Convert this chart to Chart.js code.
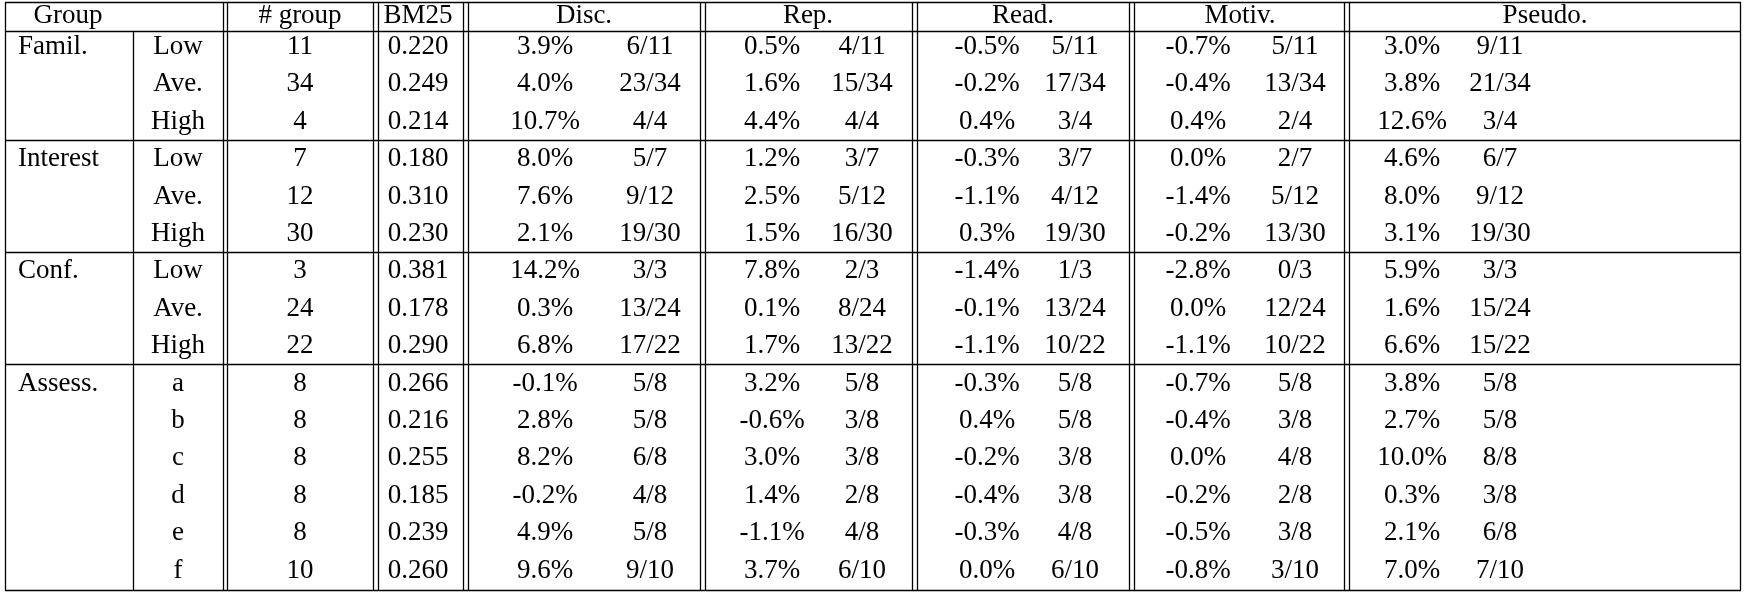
<!DOCTYPE html>
<html>
<head>
<meta charset="utf-8">
<script src="https://cdn.jsdelivr.net/npm/chart.js@4"></script>
<style>
  html, body { margin: 0; padding: 0; background: #fff; }
  #wrap { width: 1745px; height: 593px; }
</style>
</head>
<body>
<div id="wrap"><canvas id="table-chart"></canvas></div>
<script>
// Dados da tabela
const groupNames = ['Famil.', '', '', 'Interest', '', '', 'Conf.', '', '', 'Assess.', '', '', '', '', ''];
const levels = ['Low', 'Ave.', 'High', 'Low', 'Ave.', 'High', 'Low', 'Ave.', 'High', 'a', 'b', 'c', 'd', 'e', 'f'];
const groupSizes = ['11', '34', '4', '7', '12', '30', '3', '24', '22', '8', '8', '8', '8', '8', '10'];
const bm25 = ['0.220', '0.249', '0.214', '0.180', '0.310', '0.230', '0.381', '0.178', '0.290', '0.266', '0.216', '0.255', '0.185', '0.239', '0.260'];
const discPct = ['3.9%', '4.0%', '10.7%', '8.0%', '7.6%', '2.1%', '14.2%', '0.3%', '6.8%', '-0.1%', '2.8%', '8.2%', '-0.2%', '4.9%', '9.6%'];
const discFrac = ['6/11', '23/34', '4/4', '5/7', '9/12', '19/30', '3/3', '13/24', '17/22', '5/8', '5/8', '6/8', '4/8', '5/8', '9/10'];
const repPct = ['0.5%', '1.6%', '4.4%', '1.2%', '2.5%', '1.5%', '7.8%', '0.1%', '1.7%', '3.2%', '-0.6%', '3.0%', '1.4%', '-1.1%', '3.7%'];
const repFrac = ['4/11', '15/34', '4/4', '3/7', '5/12', '16/30', '2/3', '8/24', '13/22', '5/8', '3/8', '3/8', '2/8', '4/8', '6/10'];
const readPct = ['-0.5%', '-0.2%', '0.4%', '-0.3%', '-1.1%', '0.3%', '-1.4%', '-0.1%', '-1.1%', '-0.3%', '0.4%', '-0.2%', '-0.4%', '-0.3%', '0.0%'];
const readFrac = ['5/11', '17/34', '3/4', '3/7', '4/12', '19/30', '1/3', '13/24', '10/22', '5/8', '5/8', '3/8', '3/8', '4/8', '6/10'];
const motivPct = ['-0.7%', '-0.4%', '0.4%', '0.0%', '-1.4%', '-0.2%', '-2.8%', '0.0%', '-1.1%', '-0.7%', '-0.4%', '0.0%', '-0.2%', '-0.5%', '-0.8%'];
const motivFrac = ['5/11', '13/34', '2/4', '2/7', '5/12', '13/30', '0/3', '12/24', '10/22', '5/8', '3/8', '4/8', '2/8', '3/8', '3/10'];
const pseudoPct = ['3.0%', '3.8%', '12.6%', '4.6%', '8.0%', '3.1%', '5.9%', '1.6%', '6.6%', '3.8%', '2.7%', '10.0%', '0.3%', '2.1%', '7.0%'];
const pseudoFrac = ['9/11', '21/34', '3/4', '6/7', '9/12', '19/30', '3/3', '15/24', '15/22', '5/8', '5/8', '8/8', '3/8', '6/8', '7/10'];
const headers = ['Group', '# group', 'BM25', 'Disc.', 'Rep.', 'Read.', 'Motiv.', 'Pseudo.'];

// Layout (posições em unidades da escala)
const columns = [
    { values: groupNames, x: 18, align: 'left' },
    { values: levels, x: 178 },
    { values: groupSizes, x: 300 },
    { values: bm25, x: 418 },
    { values: discPct, x: 545 }, { values: discFrac, x: 650 },
    { values: repPct, x: 772 }, { values: repFrac, x: 862 },
    { values: readPct, x: 987 }, { values: readFrac, x: 1075 },
    { values: motivPct, x: 1198 }, { values: motivFrac, x: 1295 },
    { values: pseudoPct, x: 1412 }, { values: pseudoFrac, x: 1500 }
];
const headerX = [68, 300, 418, 584, 808, 1023, 1240, 1545];
const headerY = -0.83;
const singleV = [5, 133, 1740];
const doubleV = [225, 375, 465, 702, 914, 1131, 1346];
const hLines = [-1.2, -0.43, 2.49, 5.49, 8.48, 14.52];

const datasets = columns.map(col => ({
    data: col.values.map((v, i) => ({ x: col.x, y: i, label: v })),
    align: col.align || 'center',
    pointRadius: 0
}));
datasets.push({
    data: headers.map((h, i) => ({ x: headerX[i], y: headerY, label: h })),
    align: 'center',
    pointRadius: 0
});

const tablePlugin = {
    id: 'tablePlugin',
    afterDatasetsDraw(chart) {
        const ctx = chart.ctx;
        const xs = chart.scales.x, ys = chart.scales.y;
        ctx.save();
        ctx.strokeStyle = '#000';
        ctx.lineWidth = 1.3;
        const top = ys.getPixelForValue(-1.2), bottom = ys.getPixelForValue(14.52);
        const headBottom = ys.getPixelForValue(-0.43);
        const vline = (x, y0) => {
            const px = Math.round(xs.getPixelForValue(x)) + 0.5;
            ctx.beginPath(); ctx.moveTo(px, y0); ctx.lineTo(px, bottom); ctx.stroke();
        };
        singleV.forEach(x => vline(x, x === 133 ? headBottom : top));
        doubleV.forEach(x => { vline(x - 2.5, top); vline(x + 2.5, top); });
        hLines.forEach(y => {
            const py = Math.round(ys.getPixelForValue(y)) + 0.5;
            ctx.beginPath();
            ctx.moveTo(xs.getPixelForValue(5), py);
            ctx.lineTo(xs.getPixelForValue(1740) + 1, py);
            ctx.stroke();
        });
        ctx.fillStyle = '#000';
        ctx.font = '27px "Liberation Serif", "DejaVu Serif", serif';
        ctx.textBaseline = 'middle';
        chart.data.datasets.forEach((ds, di) => {
            ctx.textAlign = ds.align;
            chart.getDatasetMeta(di).data.forEach((el, j) => {
                ctx.fillText(ds.data[j].label, el.x, el.y);
            });
        });
        ctx.restore();
    }
};

new Chart(document.getElementById('table-chart'), {
    type: 'scatter',
    data: { datasets },
    options: {
        responsive: true,
        maintainAspectRatio: false,
        animation: false,
        layout: { padding: 0 },
        plugins: { legend: { display: false }, tooltip: { enabled: false } },
        scales: {
            x: { type: 'linear', min: 0, max: 1745, display: false },
            y: { type: 'linear', min: -1.257, max: 14.6, reverse: true, display: false }
        }
    },
    plugins: [tablePlugin]
});
</script>
</body>
</html>
